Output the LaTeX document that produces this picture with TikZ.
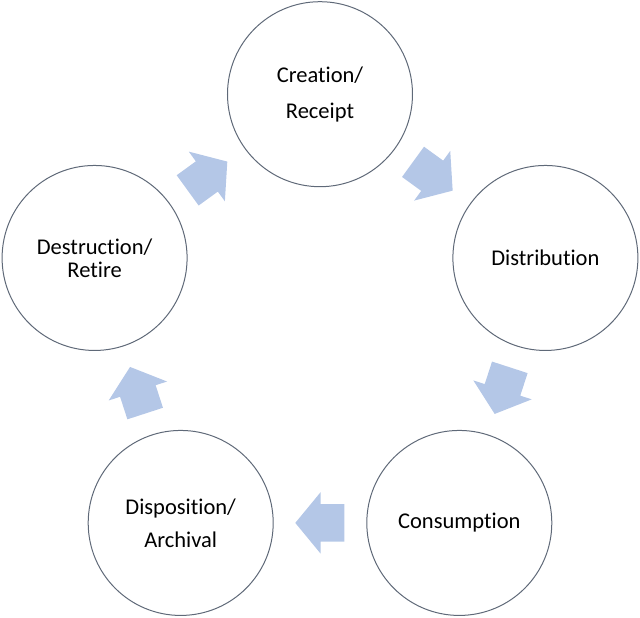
\documentclass[tikz,border=0pt]{standalone}
\usepackage{fontspec}
\setmainfont{Carlito}[Ligatures=NoCommon]
\usepackage{tikz}
\usetikzlibrary{shapes.arrows,calc}
\definecolor{cycleline}{RGB}{95,105,120}
\definecolor{cycleblue}{RGB}{180,199,231}

\begin{document}
\begin{tikzpicture}[x=1pt,y=1pt,
  stage/.style={draw=cycleline,line width=1pt,circle,minimum size=185pt,inner sep=0pt,align=center,font=\fontsize{22.5}{26}\selectfont},
  flow/.style={single arrow,fill=cycleblue,draw=none,minimum height=49pt,text height=37pt,text depth=0pt,single arrow head extend=12pt,single arrow tip angle=101,inner sep=0pt}]
  \useasboundingbox (-320,-286.8) rectangle (320,331.2);
  % Stages
  \node[stage] (create) at (90:237) {Creation/\\[10pt]Receipt};
  \node[stage] (distrib) at (18:237) {Distribution};
  \node[stage] (consume) at (-54:237) {Consumption};
  \node[stage] (dispose) at (-126:237) {Disposition/\\[7pt]Archival};
  \node[stage] (destroy) at (162:237) {Destruction/\\[-3pt]Retire};
  % Arrows between stages
  \foreach \ang/\name in {54/a1,-18/a2,-90/a3,-162/a4,126/a5}
    \node[flow,rotate=\ang-90] (\name) at ($(\ang:191.7)+(\ang+90:7.5)$) {};
\end{tikzpicture}
\end{document}
